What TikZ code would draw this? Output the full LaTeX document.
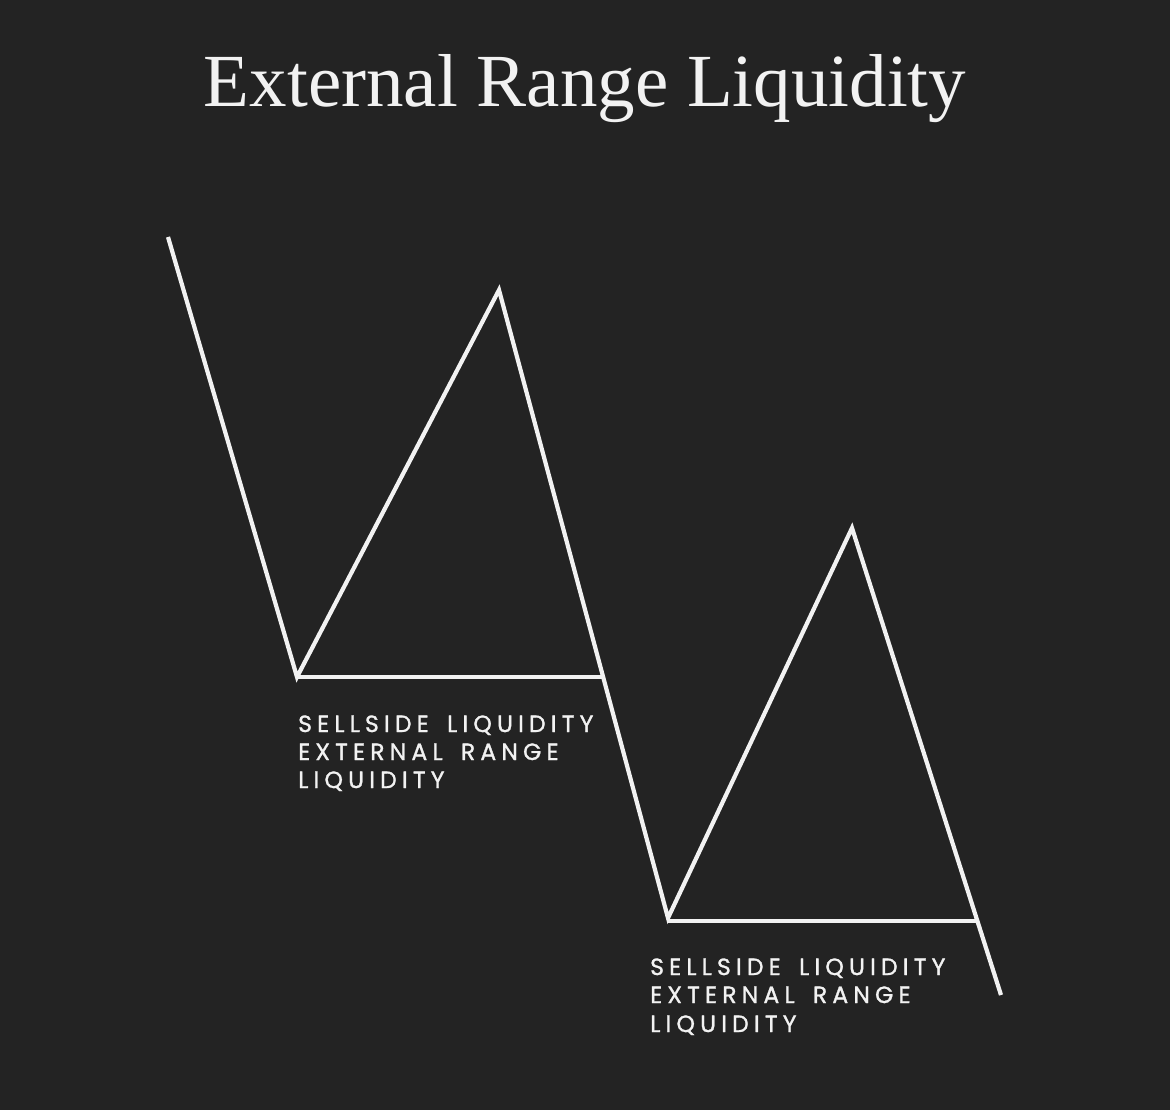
\documentclass[tikz,border=0pt]{standalone}
\usepackage{fontspec}
\setmainfont{Liberation Serif}
\newfontfamily\labfont[LetterSpace=22,WordSpace=1.6,FakeBold=1.2]{Poppins}
\definecolor{bg}{HTML}{232323}
\definecolor{fg}{HTML}{F2F2F2}
\begin{document}
\begin{tikzpicture}[x=1pt,y=-1pt,
  wave/.style={draw=fg,line width=4.2pt,line join=miter,line cap=butt},
  labtxt/.style={anchor=base west,inner sep=0pt,text=fg,font=\labfont\fontsize{23.5}{26}\selectfont},
  ttl/.style={anchor=base,inner sep=0pt,text=fg,font=\fontsize{75}{80}\selectfont}]
\fill[bg] (0,0) rectangle (1170,1110);
\useasboundingbox (0,0) rectangle (1170,1110);
\node[ttl] (title) at (585,107) {External Range Liquidity};
\coordinate (a) at (168,237);
\coordinate (b) at (297,677);
\coordinate (c) at (499,290);
\coordinate (d) at (668,918);
\coordinate (e) at (852,528);
\coordinate (f) at (1001,995);
\coordinate (b2) at (603,677);
\coordinate (d1) at (668,921);
\coordinate (d2) at (977,921);
\draw[wave] (a) -- (b) -- (c) -- (d) -- (e) -- (f);
\draw[wave] (b) -- (b2);
\draw[wave] (d1) -- (d2);
\node[labtxt] (l1) at (298,732) {SELLSIDE LIQUIDITY};
\node[labtxt] (l2) at (298,760) {EXTERNAL RANGE};
\node[labtxt] (l3) at (298,788) {LIQUIDITY};
\node[labtxt] (m1) at (650,975) {SELLSIDE LIQUIDITY};
\node[labtxt] (m2) at (650,1003) {EXTERNAL RANGE};
\node[labtxt] (m3) at (650,1032) {LIQUIDITY};
\end{tikzpicture}
\end{document}
